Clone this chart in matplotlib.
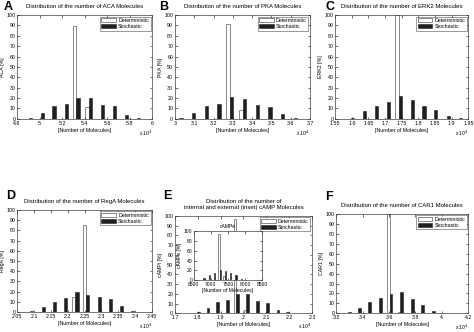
import numpy as np
import matplotlib
matplotlib.use("Agg")
import matplotlib.pyplot as plt
from matplotlib.ticker import FuncFormatter

plt.rcParams['font.family'] = ['Liberation Sans', 'DejaVu Sans']
plt.rcParams['axes.linewidth'] = 0.5

# ---- data (x in units of 10^4 molecules, y in %) ----
aca_bins = [4.905, 5.012, 5.114, 5.223, 5.327, 5.435, 5.542, 5.650, 5.757, 5.861]
aca_det = [0, 0, 0, 0, 89, 11, 0, 0, 0, 0]
aca_stoch = [1, 5.5, 12, 14, 20, 20, 13, 12, 4, 1]

pka_bins = [3.022, 3.087, 3.154, 3.220, 3.285, 3.351, 3.418, 3.484, 3.550, 3.615]
pka_det = [0, 0, 0, 0, 91, 9, 0, 0, 0, 0]
pka_stoch = [1, 6, 12, 14, 21, 19, 13, 11, 5, 1]

erk_bins = [1.598, 1.634, 1.670, 1.706, 1.741, 1.777, 1.812, 1.847, 1.885, 1.921]
erk_det = [0, 0, 0, 0, 100, 0, 0, 0, 0, 0]
erk_stoch = [1.3, 7.3, 12, 16, 22, 18.5, 12, 8.6, 3, 1]

rega_bins = [2.089, 2.124, 2.157, 2.189, 2.223, 2.255, 2.289, 2.322, 2.355, 2.388]
rega_det = [0, 0, 0, 0, 15, 85, 0, 0, 0, 0]
rega_stoch = [0.7, 4.5, 10, 14, 20, 17, 15, 13, 6, 0.8]

campi_bins = [1.798, 1.839, 1.882, 1.925, 1.969, 2.013, 2.056, 2.101, 2.145, 2.188]
campi_det = [0, 0, 0, 0, 97, 4, 0, 0, 0, 0]
campi_stoch = [1, 6, 12, 14, 20, 20, 13, 10.5, 4, 1]

campe_bins = [6776, 6938, 7091, 7252, 7405, 7557, 7719, 7881]
campe_det = [0, 0, 0, 95, 9, 0, 0, 0]
campe_stoch = [4, 10, 15, 21, 19, 15, 10, 3]

car1_bins = [3.291, 3.367, 3.443, 3.527, 3.605, 3.686, 3.767, 3.843, 3.924, 4.000]
car1_det = [0, 0, 0, 0, 100, 1.5, 0, 0, 0, 0]
car1_stoch = [1, 5, 11.6, 15.5, 19, 21.7, 14, 8, 2.6, 0.7]

panels = [
    # letter, title, ylabel, bins, det, stoch, xlim, xticks, axes rect, letter pos
    ("A", "Distribution of the number of ACA Molecules", "ACA [%]",
     aca_bins, aca_det, aca_stoch, (4.8, 6.0), np.arange(4.8, 6.01, 0.2),
     [0.036, 0.642, 0.285, 0.313], (0.008, 0.979)),
    ("B", "Distribution of the number of PKA Molecules", "PKA [%]",
     pka_bins, pka_det, pka_stoch, (3.0, 3.7), np.arange(3.0, 3.71, 0.1),
     [0.369, 0.642, 0.285, 0.313], (0.336, 0.979)),
    ("C", "Distribution of the number of ERK2 Molecules", "ERK2 [%]",
     erk_bins, erk_det, erk_stoch, (1.55, 1.95), np.arange(1.55, 1.951, 0.05),
     [0.707, 0.642, 0.281, 0.313], (0.686, 0.979)),
    ("D", "Distribution of the number of RegA Molecules", "RegA [%]",
     rega_bins, rega_det, rega_stoch, (2.05, 2.45), np.arange(2.05, 2.451, 0.05),
     [0.036, 0.060, 0.285, 0.308], (0.012, 0.409)),
    ("E", "Distribution of the number of\ninternal and external (inset) cAMP Molecules", "cAMPi [%]",
     campi_bins, campi_det, campi_stoch, (1.7, 2.3), np.arange(1.7, 2.31, 0.1),
     [0.369, 0.056, 0.289, 0.294], (0.344, 0.409)),
    ("F", "Distribution of the number of CAR1 Molecules", "CAR1 [%]",
     car1_bins, car1_det, car1_stoch, (3.2, 4.2), np.arange(3.2, 4.21, 0.2),
     [0.709, 0.056, 0.279, 0.300], (0.686, 0.406)),
]

fs = 3.8


def gfmt(v, pos):
    return '%g' % round(v, 4)


def style(ax, size=fs):
    ax.tick_params(direction='in', length=1.8, width=0.4, labelsize=size,
                   top=True, right=True, pad=1.2)
    ax.xaxis.set_major_formatter(FuncFormatter(gfmt))
    for s in ax.spines.values():
        s.set_color('0.25')


def draw_bars(ax, bins, det, stoch):
    bins = np.asarray(bins)
    w = 0.27 * np.mean(np.diff(bins))
    hd = ax.bar(bins - w / 2, det, width=w, color='white', edgecolor='0.35',
                linewidth=0.5)
    hs = ax.bar(bins + w / 2, stoch, width=w, color='0.12', edgecolor='0.12',
                linewidth=0.4)
    return hd, hs


fig = plt.figure(figsize=(4.74, 3.32), dpi=100)

for letter, title, ylab, bins, det, stoch, xlim, xticks, rect, lpos in panels:
    ax = fig.add_axes(rect)
    hd, hs = draw_bars(ax, bins, det, stoch)
    ax.set_xlim(*xlim)
    ax.set_ylim(0, 100)
    ax.set_xticks(xticks)
    ax.set_yticks(np.arange(0, 101, 10))
    style(ax)
    ax.set_ylabel(ylab, fontsize=fs, labelpad=1)
    ax.set_xlabel('[Number of Molecules]', fontsize=fs, labelpad=1.5)
    ax.set_title(title, fontsize=4.3, pad=5, linespacing=1.2)
    ax.text(1.0, -0.09, r'x 10$^4$', transform=ax.transAxes, ha='right',
            va='top', fontsize=fs - 0.2)
    leg = ax.legend([hd, hs], ['Deterministic', 'Stochastic'], loc='upper right',
                    fontsize=fs, frameon=True, fancybox=False, handlelength=2.8,
                    handleheight=0.9, borderpad=0.3, labelspacing=0.15,
                    handletextpad=0.4, borderaxespad=0.3)
    leg.get_frame().set_edgecolor('0.3')
    leg.get_frame().set_linewidth(0.5)
    fig.text(lpos[0], lpos[1], letter, fontsize=9, fontweight='bold',
             va='center', ha='left')

# inset for external cAMP
axi = fig.add_axes([0.409, 0.156, 0.144, 0.148])
draw_bars(axi, campe_bins, campe_det, campe_stoch)
axi.set_xlim(6500, 8500)
axi.set_ylim(0, 100)
axi.set_xticks([6500, 7000, 7500, 8000, 8500])
axi.set_yticks(np.arange(0, 101, 20))
style(axi, fs - 0.2)
axi.set_ylabel('cAMPe [%]', fontsize=fs - 0.2, labelpad=1)
axi.set_xlabel('[Number of Molecules]', fontsize=fs - 0.2, labelpad=1)
axi.set_title('cAMPe', fontsize=fs - 0.2, pad=2)

fig.savefig('out.png', dpi=100)
